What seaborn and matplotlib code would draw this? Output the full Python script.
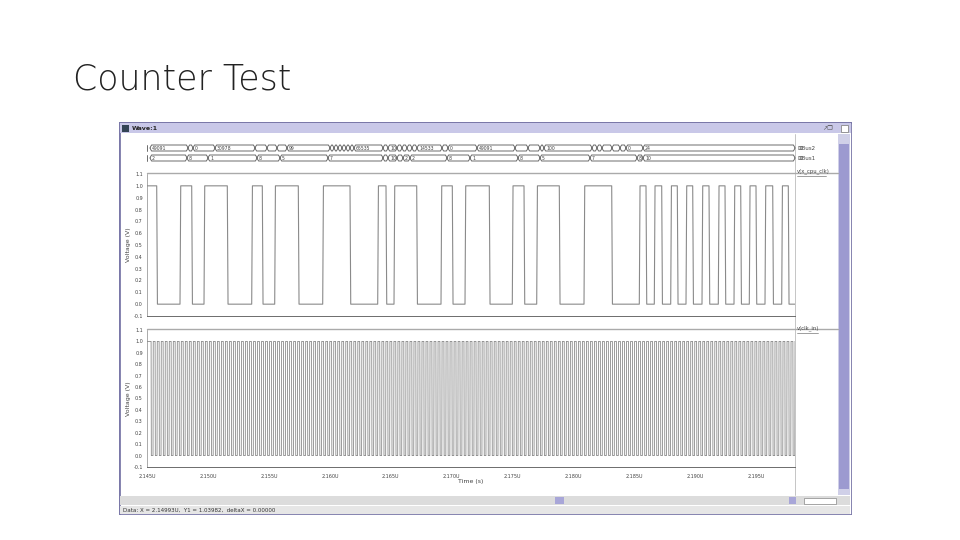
import numpy as np
import pandas as pd
import matplotlib
matplotlib.use('Agg')
import matplotlib.pyplot as plt
import seaborn as sns
from matplotlib.patches import Rectangle

sns.set_style('white')
plt.rcParams['font.family'] = ['DejaVu Sans']

W, H = 960, 540
T0, T1 = 2.145, 2.19815          # time window, in micro-seconds
PX0, PX1 = 147, 795              # pixel span of the time axis
LINE = '#8a8a8a'

# edges of v(x_cpu_clk) (starts high)
cpu_rise_px = [180.0, 204.0, 251.7, 274.7, 322.7, 377.7, 394.0, 441.0, 465.0,
               512.3, 536.7, 584.0, 639.3, 654.3, 670.7, 686.0, 702.0, 718.3,
               734.0, 749.3, 765.0, 781.7]
cpu_fall_px = [156.7, 191.7, 227.3, 262.3, 298.3, 350.0, 386.0, 416.7, 452.3,
               489.3, 524.0, 559.3, 611.7, 646.0, 661.7, 677.3, 692.7, 709.0,
               725.0, 740.7, 756.0, 772.7, 788.3]

# v(clk_in): regular fast clock
clk_period = 0.000329
clk_cycles = 162

# bus values: (transition pixel, label)
bus2 = [(150, '49091'), (188, ''), (193, '0'), (215, '30978'), (255, ''),
        (267, ''), (277, ''), (287, '99'), (330, ''), (334, ''), (338, ''),
        (342, ''), (346, ''), (350, ''), (354, '65535'), (383, ''), (388, '10'),
        (397, ''), (402, ''), (407, ''), (412, ''), (417, '14533'), (442, ''),
        (448, '0'), (477, '49091'), (515, ''), (528, ''), (540, ''), (544, '100'),
        (592, ''), (597, ''), (602, ''), (612, ''), (620, ''), (626, '0'),
        (643, '24')]
bus1 = [(150, '2'), (187, '8'), (208, '1'), (257, '8'), (280, '5'), (328, '7'),
        (383, ''), (388, '10'), (397, ''), (403, '2'), (410, '2'), (447, '8'),
        (470, '1'), (518, '8'), (540, '5'), (590, '7'), (637, '8'), (643, '10')]

xticks = [2.145, 2.150, 2.155, 2.160, 2.165, 2.170, 2.175, 2.180, 2.185, 2.190, 2.195]
yticks = [round(-0.1 + 0.1 * i, 1) for i in range(13)]


def px2t(px):
    return T0 + (px - PX0) / (PX1 - PX0) * (T1 - T0)


def add_px_axes(fig, l, t, r, b):
    return fig.add_axes([l / W, 1 - b / H, (r - l) / W, (b - t) / H])


def square_wave(rises, falls, start_high, slope=0.00006):
    ev = sorted([(t, 1) for t in rises] + [(t, 0) for t in falls])
    lvl = 1.0 if start_high else 0.0
    xs, ys = [T0], [lvl]
    for t, up in ev:
        new = 1.0 if up else 0.0
        xs += [t, t + slope]
        ys += [lvl, new]
        lvl = new
    xs.append(T1)
    ys.append(lvl)
    return pd.DataFrame({'t': xs, 'v': ys})


fig = plt.figure(figsize=(9.6, 5.4), dpi=100)
fig.patch.set_facecolor('white')
fig.text(73 / W, 1 - 80 / H, 'Counter Test', fontsize=25, color='#222222',
         va='center', fontweight='light')

# window frame
frame = add_px_axes(fig, 119, 122, 852, 515)
frame.set_xlim(119, 852)
frame.set_ylim(515, 122)
frame.axis('off')
frame.add_patch(Rectangle((119, 122), 733, 393, fc='white', ec='#7a78a8', lw=2))
frame.add_patch(Rectangle((120, 123), 731, 10, fc='#c9c8e8', ec='none'))
frame.add_patch(Rectangle((122, 125), 7, 7, fc='#334455', ec='none'))
frame.text(132, 128.5, 'Wave:1', fontsize=4.5, va='center', fontweight='bold')
frame.text(822, 128.5, '\u2197\u2750', fontsize=4.5, va='center', color='#555555')
frame.add_patch(Rectangle((841, 124.5), 7, 7, fc='white', ec='#888888', lw=0.6))
frame.add_patch(Rectangle((838, 134), 12, 361, fc='#d0d0e8', ec='none'))
frame.add_patch(Rectangle((839, 144), 10, 345, fc='#9c9ad0', ec='none'))
frame.add_patch(Rectangle((120, 496), 730, 9, fc='#dcdcdc', ec='none'))
frame.add_patch(Rectangle((555, 497), 9, 7, fc='#a8a6d8', ec='none'))
frame.add_patch(Rectangle((789, 497), 7, 7, fc='#a8a6d8', ec='none'))
frame.add_patch(Rectangle((804, 498), 32, 6, fc='white', ec='#888888', lw=0.5))
frame.add_patch(Rectangle((120, 506), 730, 8, fc='#e6e6e6', ec='none'))
frame.text(123, 510, 'Data: X = 2.14993U,  Y1 = 1.03982,  deltaX = 0.00000',
           fontsize=4, va='center', color='#333333')
frame.plot([795, 795], [134, 495], color='#bbbbbb', lw=0.6)
frame.plot([147, 838], [173, 173], color='#aaaaaa', lw=1)
frame.plot([147, 838], [329, 329], color='#aaaaaa', lw=1)
frame.text(797, 174, 'v(x_cpu_clk)', fontsize=3.8, va='bottom', color='#444444')
frame.plot([797, 826], [175.5, 175.5], color='#777777', lw=0.5)
frame.text(797, 331, 'v(clk_in)', fontsize=3.8, va='bottom', color='#444444')
frame.plot([797, 818], [332.5, 332.5], color='#777777', lw=0.5)
frame.text(797, 148, '\u229eBus2', fontsize=4, va='center', color='#444444')
frame.text(797, 158, '\u229eBus1', fontsize=4, va='center', color='#444444')

# bus rows
for yc, bus in [(148, bus2), (158, bus1)]:
    edges = [p for p, _ in bus] + [PX1]
    frame.plot([147, 147], [yc - 3, yc + 3], color='#555555', lw=0.6)
    for i, (p, lab) in enumerate(bus):
        nxt = edges[i + 1]
        d = min(1.5, (nxt - p) / 2)
        frame.plot([p, p + d, nxt - d, nxt], [yc, yc - 3, yc - 3, yc], color='#555555', lw=0.6)
        frame.plot([p, p + d, nxt - d, nxt], [yc, yc + 3, yc + 3, yc], color='#555555', lw=0.6)
        if lab:
            frame.text(p + 2, yc, lab, fontsize=3.3, va='center', color='#444444')

# cpu clock panel
cpu = square_wave([px2t(p) for p in cpu_rise_px], [px2t(p) for p in cpu_fall_px], True)
ax1 = add_px_axes(fig, PX0, 174, PX1, 316)
sns.lineplot(data=cpu, x='t', y='v', ax=ax1, color=LINE, lw=0.8, sort=False, estimator=None)

# clk_in panel
clk_rise = [T0 + clk_period * (k + 0.5) for k in range(clk_cycles)]
clk_fall = [T0 + clk_period * (k + 0.02) for k in range(1, clk_cycles)]
clk = square_wave(clk_rise, clk_fall, True, slope=0.00002)
ax2 = add_px_axes(fig, PX0, 330, PX1, 467)
sns.lineplot(data=clk, x='t', y='v', ax=ax2, color=LINE, lw=0.6, sort=False, estimator=None)

for ax in (ax1, ax2):
    ax.set_xlim(T0, T1)
    ax.set_ylim(-0.1, 1.1)
    ax.set_facecolor('none')
    for s in ('top', 'right'):
        ax.spines[s].set_visible(False)
    ax.spines['left'].set_color('#888888')
    ax.spines['bottom'].set_color('#555555')
    ax.spines['left'].set_linewidth(0.5)
    ax.spines['bottom'].set_linewidth(0.6)
    ax.set_yticks(yticks)
    ax.set_yticklabels([f'{v:.1f}' for v in yticks], fontsize=3.5, color='#444444')
    ax.tick_params(axis='y', length=2, width=0.4, pad=1)
    ax.set_ylabel('Voltage (V)', fontsize=4.5, color='#444444', labelpad=2)
    ax.set_xticks(xticks)
    ax.set_xticks(np.linspace(T0, 2.1975, 22), minor=True)
    ax.tick_params(axis='x', which='major', length=3, width=0.5, direction='in')
    ax.tick_params(axis='x', which='minor', length=1.5, width=0.4, direction='in')
    ax.set_xlabel('')

ax1.set_xticklabels([])
ax2.set_xticklabels([f'{v:.3f}U' for v in xticks], fontsize=3.5, color='#444444')
ax2.tick_params(axis='x', pad=5)
ax2.set_xlabel('Time (s)', fontsize=4.5, color='#444444', labelpad=0)

fig.savefig('out.png', dpi=100)
